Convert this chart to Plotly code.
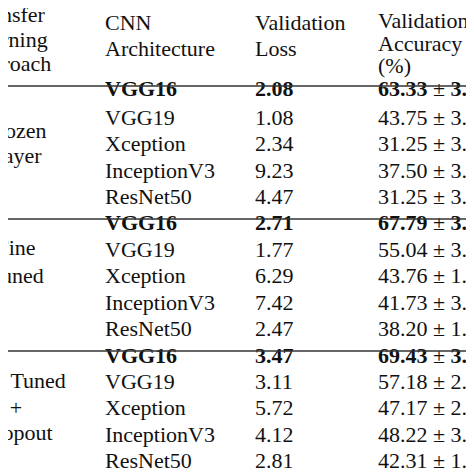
import plotly.graph_objects as go

archs = ["VGG16", "VGG19", "Xception", "InceptionV3", "ResNet50"] * 3
losses = ["2.08", "1.08", "2.34", "9.23", "4.47",
          "2.71", "1.77", "6.29", "7.42", "2.47",
          "3.47", "3.11", "5.72", "4.12", "2.81"]
acc_mean = ["63.33", "43.75", "31.25", "37.50", "31.25",
            "67.79", "55.04", "43.76", "41.73", "38.20",
            "69.43", "57.18", "47.17", "48.22", "42.31"]
acc_std = ["3.12", "3.21", "3.15", "3.42", "3.11",
           "3.05", "3.27", "1.94", "3.36", "1.88",
           "3.18", "2.45", "2.73", "3.09", "1.67"]
approach_lines = [["Frozen", "Layer"], ["Fine", "Tuned"], ["Fine Tuned", "+", "Dropout"]]

row_y = [82, 111, 137, 164, 190, 216, 243, 269, 296, 322, 349, 375, 401, 428, 454]
font = dict(family="Liberation Serif", size=22, color="#111")

fig = go.Figure()
def txt(xs, ys, texts, pos="middle right"):
    fig.add_trace(go.Scatter(x=xs, y=ys, text=texts, mode="text", textposition=pos,
                             textfont=font, cliponaxis=True, hoverinfo="skip", showlegend=False))

bold = [i % 5 == 0 for i in range(15)]
txt([97]*15, row_y, [f"<b>{a}</b>" if b else a for a, b in zip(archs, bold)])
txt([247]*15, row_y, [f"<b>{l}</b>" if b else l for l, b in zip(losses, bold)])
txt([370]*15, row_y, [f"<b>{m}</b> ± <b>{s}</b>" if b else f"{m} ± {s}"
                      for m, s, b in zip(acc_mean, acc_std, bold)])
# headers
txt([0]*3, [8, 33, 57], ["Transfer", "Learning", "Approach"], "middle center")
txt([97]*2, [16, 42], ["CNN", "Architecture"])
txt([247]*2, [16, 42], ["Validation", "Loss"])
txt([370]*3, [14, 37, 59], ["Validation", "Accuracy", "(%)"])
# group labels
gy = [[124, 149], [241, 269], [374, 401, 426]]
for lines, ys in zip(approach_lines, gy):
    txt([8]*len(lines), ys, lines, "middle center")

for y in [78, 211, 343]:
    fig.add_shape(type="line", x0=0, x1=474, y0=y, y1=y, line=dict(color="#333", width=1.5))

fig.update_layout(width=474, height=474, margin=dict(l=0, r=0, t=0, b=0),
                  plot_bgcolor="white", paper_bgcolor="white",
                  xaxis=dict(range=[0, 474], visible=False, fixedrange=True),
                  yaxis=dict(range=[474, 0], visible=False, fixedrange=True))
fig.write_html("out.html")
